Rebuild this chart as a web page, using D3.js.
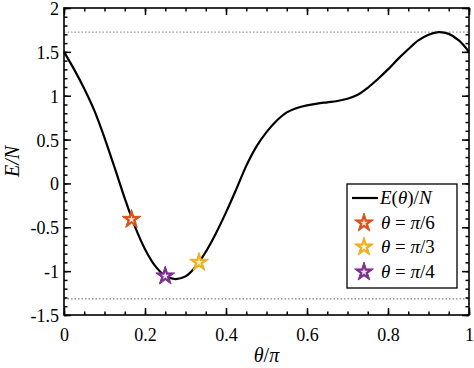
<!DOCTYPE html>
<html>
<head>
<meta charset="utf-8">
<script src="https://d3js.org/d3.v7.min.js"></script>
</head>
<body style="margin:0">
<script>
// values
var theta = [0, 0.025, 0.05, 0.075, 0.1, 0.125, 0.15, 0.175, 0.2, 0.225, 0.25, 0.275, 0.3, 0.325, 0.35, 0.375, 0.4, 0.425, 0.45, 0.475, 0.5,
             0.525, 0.55, 0.575, 0.6, 0.625, 0.65, 0.675, 0.7, 0.725, 0.75, 0.775, 0.8, 0.825, 0.85, 0.875, 0.9, 0.925, 0.95, 0.975, 1];
var energy = [1.50, 1.30, 1.08, 0.83, 0.52, 0.18, -0.17, -0.49, -0.75, -0.94, -1.055, -1.09, -1.06, -0.95, -0.78, -0.57, -0.33, -0.07, 0.20, 0.42, 0.585,
              0.715, 0.81, 0.86, 0.89, 0.91, 0.925, 0.94, 0.965, 1.01, 1.09, 1.19, 1.30, 1.42, 1.53, 1.63, 1.695, 1.725, 1.705, 1.63, 1.50];
var markTheta = [1/6, 1/3, 1/4];
var markEnergy = [-0.41, -0.90, -1.055];
var markLabel = ["π/6", "π/3", "π/4"];
var markColor = ["#d95319", "#edb120", "#7e2f8e"];
var bounds = [1.725, -1.315];
var xTicks = [0, 0.2, 0.4, 0.6, 0.8, 1];
var yTicks = [-1.5, -1, -0.5, 0, 0.5, 1, 1.5, 2];

var W = 474, H = 368;
var margin = {top: 8, right: 5, bottom: 53, left: 64};
var width = W - margin.left - margin.right,
    height = H - margin.top - margin.bottom;

var svg = d3.select("body").append("svg").attr("width", W).attr("height", H)
  .style("font-family", "'Liberation Serif'");
var g = svg.append("g").attr("transform", "translate(" + margin.left + "," + margin.top + ")");

var x = d3.scaleLinear().domain([0, 1]).range([0, width]);
var y = d3.scaleLinear().domain([-1.5, 2]).range([height, 0]);

// helper: serif text
function txt(sel, size) {
  return sel.attr("font-family", "Liberation Serif").style("font-family", "'Liberation Serif'").style("font-size", size + "px");
}

// dotted bounds
g.selectAll(".bound").data(bounds).enter().append("line")
  .attr("x1", 0).attr("x2", width)
  .attr("y1", function(d) { return y(d); }).attr("y2", function(d) { return y(d); })
  .attr("stroke", "#999").attr("stroke-width", 1.3).attr("stroke-dasharray", "1.5,2");

// curve
var pts = theta.map(function(t, i) { return [t, energy[i]]; });
var line = d3.line().x(function(d) { return x(d[0]); }).y(function(d) { return y(d[1]); }).curve(d3.curveCatmullRom);
g.append("path").datum(pts).attr("d", line)
  .attr("fill", "none").attr("stroke", "#000").attr("stroke-width", 2.2);

// stars
var star = d3.symbol().type(d3.symbolStar).size(110);
var smallStar = d3.symbol().type(d3.symbolStar).size(18);
function drawStar(sel, c) {
  sel.append("path").attr("d", star).attr("fill", c).attr("stroke", c).attr("stroke-width", 1);
  sel.append("path").attr("d", smallStar).attr("fill", "#fff").attr("opacity", 0.85);
}
markTheta.forEach(function(t, i) {
  drawStar(g.append("g").attr("transform", "translate(" + x(t) + "," + y(markEnergy[i]) + ")"), markColor[i]);
});

// axes, ticks inward on all sides
var minorX = d3.range(0, 1.0001, 0.05), minorY = d3.range(-1.5, 2.0001, 0.1);
function axes(axisFn, scale, major, minor, tr, labels) {
  var a = g.append("g").attr("transform", tr);
  a.call(axisFn(scale).tickValues(minor).tickSize(-3.5).tickFormat(""));
  var b = g.append("g").attr("transform", tr);
  b.call(axisFn(scale).tickValues(major).tickSize(-7).tickPadding(12)
    .tickFormat(labels ? function(d) { return d; } : ""));
  [a, b].forEach(function(s) {
    s.attr("font-family", "Liberation Serif");
    s.select(".domain").remove();
    s.selectAll("line").attr("stroke", "#000").attr("stroke-width", 1.5);
    txt(s.selectAll("text").attr("fill", "#000"), 18);
  });
  return b;
}
var bx = axes(d3.axisBottom, x, xTicks, minorX, "translate(0," + height + ")", true);
bx.selectAll("text").attr("dy", "0.71em").attr("y", 13);
axes(d3.axisTop, x, xTicks, minorX, "translate(0,0)", false);
var ly = axes(d3.axisLeft, y, yTicks, minorY, "translate(0,0)", true);
ly.selectAll("text").attr("x", -5).attr("dy", "0.36em");
axes(d3.axisRight, y, yTicks, minorY, "translate(" + width + ",0)", false);

g.append("rect").attr("width", width).attr("height", height)
  .attr("fill", "none").attr("stroke", "#000").attr("stroke-width", 1.6);

// axis labels
txt(svg.append("text"), 20).attr("x", margin.left + width / 2).attr("y", 362)
  .attr("text-anchor", "middle")
  .html('<tspan font-style="italic">θ</tspan>/<tspan font-style="italic">π</tspan>');
txt(svg.append("text"), 20).attr("transform", "translate(19," + (margin.top + height / 2) + ") rotate(-90)")
  .attr("text-anchor", "middle").style("font-style", "italic")
  .text("E/N");

// legend
var lg = svg.append("g");
lg.append("rect").attr("x", 347).attr("y", 184).attr("width", 110).attr("height", 104)
  .attr("fill", "#fff").attr("stroke", "#000").attr("stroke-width", 1.3);
var rowY = [198, 223, 247, 272];
lg.append("line").attr("x1", 352).attr("x2", 378).attr("y1", rowY[0]).attr("y2", rowY[0])
  .attr("stroke", "#000").attr("stroke-width", 2.2);
txt(lg.append("text"), 19).attr("x", 380).attr("y", rowY[0] + 6)
  .html('<tspan font-style="italic">E</tspan>(<tspan font-style="italic">θ</tspan>)/<tspan font-style="italic">N</tspan>');
markLabel.forEach(function(lab, i) {
  drawStar(lg.append("g").attr("transform", "translate(364," + rowY[i + 1] + ")"), markColor[i]);
  txt(lg.append("text"), 19).attr("x", 381).attr("y", rowY[i + 1] + 6)
    .html('<tspan font-style="italic">θ</tspan> = <tspan font-style="italic">' + lab.charAt(0) + '</tspan>' + lab.slice(1));
});
</script>
</body>
</html>
